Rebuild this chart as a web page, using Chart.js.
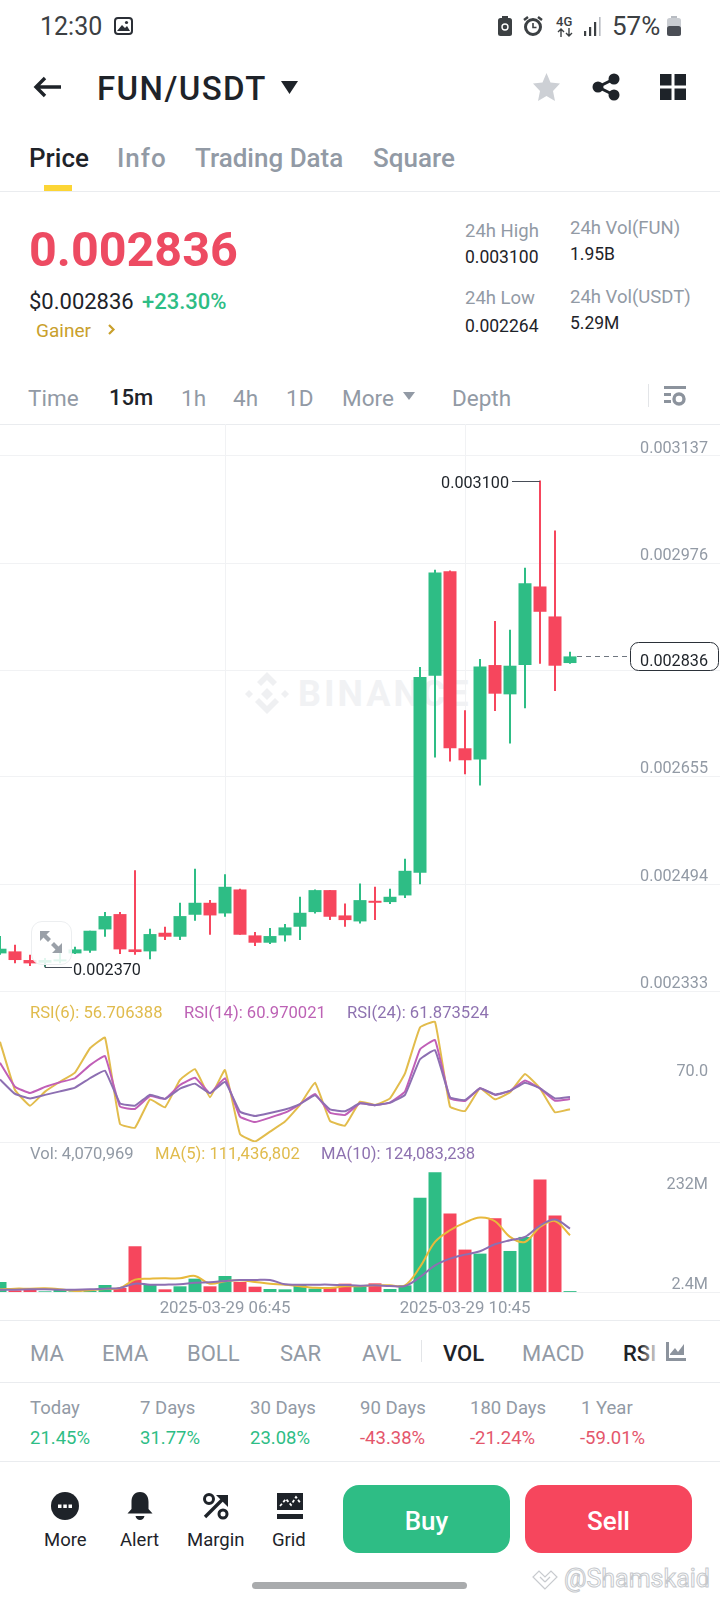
<!DOCTYPE html>
<html>
<head>
<meta charset="utf-8">
<title>FUN/USDT</title>
<script src="https://cdn.jsdelivr.net/npm/chart.js@4"></script>
<style>
  html, body { margin: 0; padding: 0; background: #fff; }
  #page { position: relative; width: 720px; height: 1600px; overflow: hidden; font-family: Roboto, sans-serif; color: #1e2329; }
  .t { position: absolute; white-space: nowrap; transform: translateY(-50%); line-height: 1; }
  .g { color: #929aa5; }
  .up { color: #2ebd85; }
  .down { color: #e4566b; }
  .line { position: absolute; left: 0; width: 720px; height: 1px; background: #eaecef; }
  svg { position: absolute; }
  canvas { position: absolute; left: 0; }
  .btn { position: absolute; top: 1485px; width: 167px; height: 68px; border-radius: 16px; color: #fff; font-size: 26px; font-weight: 500; line-height: 72px; text-align: center; }
</style>
</head>
<body>
<div id="page">
  <!-- status bar -->
  <span class="t" style="left:40px;top:26px;font-size:25px;color:#3c4043">12:30</span>
  <svg style="left:114px;top:17px" width="19" height="18" viewBox="0 0 19 18"><rect x="1" y="1" width="17" height="16" rx="3" fill="none" stroke="#2b2f36" stroke-width="2"/><path d="M3 14l5-6 3 3 2-2 3 5z" fill="#2b2f36"/><circle cx="12.5" cy="5.5" r="1.6" fill="#2b2f36"/></svg>
  <svg style="left:498px;top:16px" width="14" height="20" viewBox="0 0 14 20"><rect x="0" y="2" width="14" height="18" rx="2.5" fill="#3c4043"/><rect x="4" y="0" width="6" height="3" fill="#3c4043"/><circle cx="7" cy="11" r="3" fill="none" stroke="#fff" stroke-width="1.4"/></svg>
  <svg style="left:523px;top:16px" width="20" height="20" viewBox="0 0 20 20"><circle cx="10" cy="11" r="7.5" fill="none" stroke="#3c4043" stroke-width="3"/><path d="M10 7v4.5h3.5" fill="none" stroke="#3c4043" stroke-width="1.6"/><path d="M1 4l4-3M19 4l-4-3" stroke="#3c4043" stroke-width="2.4"/></svg>
  <span class="t" style="left:556px;top:21px;font-size:13px;font-weight:500;color:#3c4043">4G</span>
  <svg style="left:557px;top:28px" width="16" height="9" viewBox="0 0 16 9"><path d="M4 9V1M1 4l3-3 3 3M12 0v8M9 5l3 3 3-3" fill="none" stroke="#3c4043" stroke-width="1.4"/></svg>
  <svg style="left:584px;top:16px" width="17" height="20" viewBox="0 0 17 20"><rect x="0" y="15" width="2.2" height="5" fill="#3c4043"/><rect x="5" y="11" width="2.2" height="9" fill="#3c4043"/><rect x="10" y="6" width="2.2" height="14" fill="#3c4043"/><rect x="15" y="1" width="1.6" height="19" fill="#b8bcc2"/></svg>
  <span class="t" style="left:612px;top:26px;font-size:26px;color:#3c4043">57%</span>
  <svg style="left:667px;top:16px" width="14" height="20" viewBox="0 0 14 20"><rect x="4" y="0" width="6" height="2" fill="#b8bcc2"/><rect x="0" y="2" width="14" height="18" rx="2.5" fill="#c9ccd1"/><rect x="0" y="10" width="14" height="10" rx="2.5" fill="#4a4e55"/></svg>

  <!-- title row -->
  <svg style="left:33px;top:76px" width="28" height="22" viewBox="0 0 28 22"><path d="M12 2L3 11l9 9M3 11h25" fill="none" stroke="#1e2329" stroke-width="3.4"/></svg>
  <span class="t" style="left:97px;top:88px;font-size:33px;font-weight:500;letter-spacing:1.4px">FUN/USDT</span>
  <svg style="left:281px;top:81px" width="17" height="13" viewBox="0 0 17 13"><path d="M0 0h17L8.500 13z" fill="#1e2329"/></svg>
  <svg style="left:533px;top:73px" width="27" height="28" viewBox="0 0 27 28"><path d="M13.500 0l4 9.500 9.500 1-7 7.500 2 10-8.500-5-8.500 5 2-10-7-7.500 9.500-1z" fill="#cdd0d5"/></svg>
  <svg style="left:592px;top:73px" width="28" height="28" viewBox="0 0 28 28"><path d="M22 6L6 14l16 8" fill="none" stroke="#1e2329" stroke-width="3"/><circle cx="22" cy="6" r="5.500" fill="#1e2329"/><circle cx="6" cy="14" r="5.500" fill="#1e2329"/><circle cx="22" cy="22" r="5.500" fill="#1e2329"/></svg>
  <svg style="left:660px;top:74px" width="26" height="26" viewBox="0 0 26 26"><rect width="11.500" height="11.500" fill="#1e2329"/><rect x="14.500" width="11.500" height="11.500" fill="#1e2329"/><rect y="14.500" width="11.500" height="11.500" fill="#1e2329"/><rect x="14.500" y="14.500" width="11.500" height="11.500" fill="#1e2329"/></svg>

  <!-- tabs -->
  <span class="t" style="left:29px;top:158px;font-size:26px;font-weight:500">Price</span>
  <span class="t g" style="left:117px;top:158px;font-size:26px;font-weight:500;letter-spacing:1px">Info</span>
  <span class="t g" style="left:195px;top:158px;font-size:26px;font-weight:500">Trading Data</span>
  <span class="t g" style="left:373px;top:158px;font-size:26px;font-weight:500">Square</span>
  <div style="position:absolute;left:44px;top:185px;width:28px;height:6px;background:#fcd535"></div>
  <div class="line" style="top:191px"></div>

  <!-- ticker -->
  <span class="t" style="left:29px;top:250px;font-size:48.500px;font-weight:700;color:#ed4b62">0.002836</span>
  <span class="t" style="left:29px;top:302px;font-size:22px">$0.002836</span>
  <span class="t up" style="left:142px;top:302px;font-size:22px;font-weight:500">+23.30%</span>
  <span class="t" style="left:36px;top:330px;font-size:19px;color:#c9a02c">Gainer</span>
  <svg style="left:107px;top:323px" width="9" height="13" viewBox="0 0 9 13"><path d="M2 2l4.500 4.500L2 11" fill="none" stroke="#c9a02c" stroke-width="2.200"/></svg>
  <span class="t g" style="left:465px;top:231px;font-size:18.500px">24h High</span>
  <span class="t" style="left:465px;top:258px;font-size:17.500px">0.003100</span>
  <span class="t g" style="left:465px;top:298px;font-size:18.500px">24h Low</span>
  <span class="t" style="left:465px;top:327px;font-size:17.500px">0.002264</span>
  <span class="t g" style="left:570px;top:228px;font-size:18.500px">24h Vol(FUN)</span>
  <span class="t" style="left:570px;top:255px;font-size:17.500px">1.95B</span>
  <span class="t g" style="left:570px;top:297px;font-size:18.500px">24h Vol(USDT)</span>
  <span class="t" style="left:570px;top:324px;font-size:17.500px">5.29M</span>

  <!-- interval row -->
  <span class="t g" style="left:28px;top:398px;font-size:22.500px">Time</span>
  <span class="t" style="left:109px;top:398px;font-size:22px;font-weight:500">15m</span>
  <span class="t g" style="left:181px;top:398px;font-size:22.500px">1h</span>
  <span class="t g" style="left:233px;top:398px;font-size:22.500px">4h</span>
  <span class="t g" style="left:286px;top:398px;font-size:22.500px">1D</span>
  <span class="t g" style="left:342px;top:398px;font-size:22.500px">More</span>
  <svg style="left:403px;top:392px" width="12" height="8" viewBox="0 0 12 8"><path d="M0 0h12L6 8z" fill="#929aa5"/></svg>
  <span class="t g" style="left:452px;top:398px;font-size:22.500px">Depth</span>
  <div style="position:absolute;left:648px;top:384px;width:1px;height:23px;background:#e3e5e8"></div>
  <svg style="left:664px;top:386px" width="22" height="21" viewBox="0 0 22 21"><rect width="22" height="3" fill="#8c939d"/><rect y="7" width="7" height="3" fill="#8c939d"/><rect y="14" width="7" height="3" fill="#8c939d"/><circle cx="15" cy="13" r="5" fill="none" stroke="#8c939d" stroke-width="3.400"/></svg>

  <div class="line" style="top:424px"></div>

  <!-- watermark behind the canvases -->
  <svg style="left:245px;top:671px" width="44" height="44" viewBox="0 0 44 44"><path d="M22 0l10 10-4 4-6-6-6 6-4-4zM4 18l4 4-4 4-4-4zM40 18l4 4-4 4-4-4zM22 16l6 6-6 6-6-6zM10 30l4-4 8 8 8-8 4 4-12 12z" fill="#eff0f2" transform="translate(0,1)"/></svg>
  <span class="t" style="left:298px;top:694px;font-size:36px;font-weight:700;letter-spacing:3px;color:#f1f2f4">BINANCE</span>

  <canvas id="price-chart" width="720" height="568" style="top:424px"></canvas>
  <canvas id="rsi-chart" width="720" height="150" style="top:992px"></canvas>
  <canvas id="vol-chart" width="720" height="178" style="top:1142px"></canvas>

  <!-- panel legends -->
  <span class="t" style="left:30px;top:1013px;font-size:16.600px;color:#e0bb4c">RSI(6): 56.706388</span>
  <span class="t" style="left:184px;top:1013px;font-size:16.600px;color:#bd62b5">RSI(14): 60.970021</span>
  <span class="t" style="left:347px;top:1013px;font-size:16.600px;color:#8e72b0">RSI(24): 61.873524</span>
  <span class="t g" style="left:30px;top:1154px;font-size:16.600px">Vol: 4,070,969</span>
  <span class="t" style="left:155px;top:1154px;font-size:16.600px;color:#e0bb4c">MA(5): 111,436,802</span>
  <span class="t" style="left:321px;top:1154px;font-size:16.600px;color:#8e72b0">MA(10): 124,083,238</span>

  <div class="line" style="top:1142px;background:#f0f1f3"></div>
  <div class="line" style="top:1292px;background:#f0f1f3"></div>
  <div class="line" style="top:1320px"></div>

  <!-- fullscreen button over the chart -->
  <div style="position:absolute;left:31px;top:921px;width:39px;height:42px;border:1.500px solid #eceef0;border-radius:11px;background:rgba(255,255,255,.86)"></div>
  <svg style="left:38px;top:929px" width="26" height="26" viewBox="0 0 26 26"><path d="M2 2h10L8.500 5.500 13 10l-3 3-4.500-4.500L2 12zM24 24H14l3.500-3.500L13 16l3-3 4.500 4.500L24 14z" fill="#9aa0a8"/></svg>

  <!-- indicator row -->
  <span class="t g" style="left:30px;top:1354px;font-size:22px">MA</span>
  <span class="t g" style="left:102px;top:1354px;font-size:22px">EMA</span>
  <span class="t g" style="left:187px;top:1354px;font-size:22px">BOLL</span>
  <span class="t g" style="left:280px;top:1354px;font-size:22px">SAR</span>
  <span class="t g" style="left:362px;top:1354px;font-size:22px">AVL</span>
  <div style="position:absolute;left:421px;top:1340px;width:1px;height:22px;background:#e3e5e8"></div>
  <span class="t" style="left:443px;top:1354px;font-size:22px;font-weight:500">VOL</span>
  <span class="t g" style="left:522px;top:1354px;font-size:22px">MACD</span>
  <span class="t" style="left:623px;top:1354px;font-size:22px;font-weight:500">RSI</span>
  <div style="position:absolute;left:640px;top:1340px;width:20px;height:28px;background:linear-gradient(to right,rgba(255,255,255,0),#fff)"></div>
  <svg style="left:666px;top:1342px" width="20" height="19" viewBox="0 0 20 19"><path d="M1.500 0v17.500H20" fill="none" stroke="#8c939d" stroke-width="3"/><path d="M4 12l5-6 3 4 6-8v11H4z" fill="#8c939d"/></svg>
  <div class="line" style="top:1382px"></div>

  <!-- performance row -->
  <span class="t g" style="left:30px;top:1408px;font-size:18.500px">Today</span>
  <span class="t g" style="left:140px;top:1408px;font-size:18.500px">7 Days</span>
  <span class="t g" style="left:250px;top:1408px;font-size:18.500px">30 Days</span>
  <span class="t g" style="left:360px;top:1408px;font-size:18.500px">90 Days</span>
  <span class="t g" style="left:470px;top:1408px;font-size:18.500px">180 Days</span>
  <span class="t g" style="left:581px;top:1408px;font-size:18.500px">1 Year</span>
  <span class="t up" style="left:30px;top:1438px;font-size:18.500px">21.45%</span>
  <span class="t up" style="left:140px;top:1438px;font-size:18.500px">31.77%</span>
  <span class="t up" style="left:250px;top:1438px;font-size:18.500px">23.08%</span>
  <span class="t down" style="left:360px;top:1438px;font-size:18.500px">-43.38%</span>
  <span class="t down" style="left:470px;top:1438px;font-size:18.500px">-21.24%</span>
  <span class="t down" style="left:580px;top:1438px;font-size:18.500px">-59.01%</span>
  <div class="line" style="top:1461px"></div>

  <!-- action row -->
  <svg style="left:51px;top:1492px" width="28" height="28" viewBox="0 0 28 28"><circle cx="14" cy="14" r="14" fill="#1e2329"/><rect x="7" y="12.500" width="3.500" height="3.500" fill="#fff"/><rect x="12.300" y="12.500" width="3.500" height="3.500" fill="#fff"/><rect x="17.500" y="12.500" width="3.500" height="3.500" fill="#fff"/></svg>
  <svg style="left:127px;top:1492px" width="26" height="28" viewBox="0 0 26 28"><path d="M13 0c6 0 8.500 4.500 8.500 10v7l4 4.500H.5l4-4.500v-7C4.500 4.500 7 0 13 0z" fill="#1e2329"/><path d="M8.500 24h9c-.5 2.500-2.300 4-4.500 4s-4-1.500-4.500-4z" fill="#1e2329"/></svg>
  <svg style="left:202px;top:1492px" width="28" height="28" viewBox="0 0 28 28"><path d="M3 25L23 5" stroke="#1e2329" stroke-width="3.400"/><path d="M14 3h12v12z" fill="#1e2329"/><circle cx="7" cy="7" r="4.500" fill="none" stroke="#1e2329" stroke-width="3"/><circle cx="21" cy="22" r="4" fill="none" stroke="#1e2329" stroke-width="3"/></svg>
  <svg style="left:277px;top:1493px" width="26" height="27" viewBox="0 0 26 27"><path d="M0 0h26v17H0z" fill="#1e2329"/><path d="M3 13l6-7 5 6 5-8 5 7" fill="none" stroke="#fff" stroke-width="1.800" stroke-dasharray="3 2"/><rect y="21" width="26" height="5" fill="#1e2329"/></svg>
  <span class="t" style="left:44px;top:1540px;font-size:18.500px">More</span>
  <span class="t" style="left:120px;top:1540px;font-size:18.500px">Alert</span>
  <span class="t" style="left:187px;top:1540px;font-size:18.500px">Margin</span>
  <span class="t" style="left:272px;top:1540px;font-size:18.500px">Grid</span>
  <div class="btn" style="left:343px;background:#2ebd85">Buy</div>
  <div class="btn" style="left:525px;background:#f6465d">Sell</div>

  <!-- footer -->
  <svg style="left:531px;top:1568px" width="28" height="22" viewBox="0 0 28 22"><path d="M14 21L2 9l6-6 6 6 6-6 6 6z" fill="none" stroke="#c8cbcf" stroke-width="1.200"/><path d="M14 14l-5-5M14 14l5-5" stroke="#c8cbcf" stroke-width="1.200"/></svg>
  <span class="t" style="left:564px;top:1578px;font-size:25px;color:#fff;-webkit-text-stroke:1px #c6c9cd">@Shamskaid</span>
  <div style="position:absolute;left:252px;top:1582px;width:215px;height:7px;border-radius:4px;background:#a9abad"></div>
</div>

<script>
const green = "#2ebd85";
const red = "#f6465d";
const gold = "#e2bc4c";
const magenta = "#c05fb7";
const purple = "#8d6fb2";
const gridColor = "#f1f2f4";
const axisText = "#929aa5";

// candles, oldest first, one every 15 minutes
const opens = [0.002390, 0.002393, 0.002380, 0.002376, 0.002378, 0.002390, 0.002394, 0.002426, 0.002449, 0.002396,
  0.002393, 0.002421, 0.002415, 0.002448, 0.002466, 0.002450, 0.002486, 0.002417, 0.002406, 0.002417,
  0.002430, 0.002452, 0.002485, 0.002447, 0.002438, 0.002469, 0.002467, 0.002477, 0.002511, 0.002807,
  0.002964, 0.002698, 0.002681, 0.002823, 0.002779, 0.002823, 0.002941, 0.002896, 0.002826];
const highs = [0.002416, 0.002403, 0.002388, 0.002383, 0.002391, 0.002400, 0.002424, 0.002452, 0.002452, 0.002515,
  0.002427, 0.002430, 0.002466, 0.002517, 0.002470, 0.002509, 0.002487, 0.002422, 0.002428, 0.002434,
  0.002475, 0.002486, 0.002485, 0.002465, 0.002495, 0.002490, 0.002487, 0.002532, 0.002820, 0.002966,
  0.002965, 0.002755, 0.002832, 0.002889, 0.002876, 0.002969, 0.003100, 0.003025, 0.002843];
const lows = [0.002388, 0.002375, 0.002371, 0.002370, 0.002375, 0.002389, 0.002391, 0.002415, 0.002389, 0.002388,
  0.002381, 0.002410, 0.002410, 0.002439, 0.002418, 0.002445, 0.002418, 0.002401, 0.002404, 0.002408,
  0.002410, 0.002450, 0.002440, 0.002430, 0.002435, 0.002440, 0.002464, 0.002473, 0.002494, 0.002684,
  0.002678, 0.002659, 0.002642, 0.002754, 0.002705, 0.002758, 0.002825, 0.002784, 0.002825];
const closes = [0.002397, 0.002380, 0.002375, 0.002380, 0.002381, 0.002396, 0.002424, 0.002446, 0.002396, 0.002392,
  0.002419, 0.002415, 0.002446, 0.002466, 0.002447, 0.002490, 0.002418, 0.002406, 0.002416, 0.002429,
  0.002451, 0.002485, 0.002445, 0.002440, 0.002470, 0.002466, 0.002475, 0.002514, 0.002805, 0.002962,
  0.002698, 0.002680, 0.002821, 0.002780, 0.002822, 0.002946, 0.002903, 0.002822, 0.002836];

const priceTicks = [0.003137, 0.002976, 0.002815, 0.002655, 0.002494, 0.002333];
const hiddenPriceTick = 0.002815;
const highMark = 0.0031;
const lowMark = 0.00237;
const lastPrice = 0.002836;

const rsi6 = [85.5, 64.9, 58.2, 64.2, 68.4, 72.3, 82.7, 87.2, 50.4, 48.8,
  60.9, 57.5, 69.2, 73.8, 61.8, 73.4, 46.1, 42.9, 47.1, 51.4,
  58.5, 68.0, 51.7, 49.7, 59.9, 58.5, 61.3, 72.0, 91.6, 94.0,
  57.8, 55.9, 65.6, 60.9, 63.9, 71.7, 65.6, 55.4, 56.7];
const rsi14 = [76.5, 66.3, 63.6, 66.2, 68.2, 69.9, 75.5, 79.4, 57.8, 56.8,
  62.3, 61.1, 67.0, 70.1, 63.5, 69.9, 53.5, 51.2, 53.1, 55.2,
  58.9, 63.2, 55.2, 54.2, 59.2, 58.4, 59.5, 64.2, 82.2, 86.2,
  61.3, 60.2, 65.6, 62.8, 64.5, 68.9, 65.6, 60.3, 61.0];
const rsi24 = [69.4, 63.2, 61.3, 62.8, 64.3, 65.9, 69.9, 73.1, 59.2, 58.2,
  62.9, 61.1, 65.5, 67.6, 63.5, 68.4, 55.6, 53.8, 55.1, 56.6,
  58.9, 62.6, 56.6, 55.8, 59.2, 58.4, 59.5, 62.8, 78.0, 81.9,
  61.8, 60.6, 65.6, 63.0, 64.5, 68.0, 65.6, 61.3, 61.9];
const rsiTicks = [70];

// volume in millions
const volumes = [21.6, 5.6, 6.2, 3.7, 6.9, 3.7, 4.3, 15.8, 10.1, 90.1,
  15.8, 7.5, 13.3, 28.0, 13.3, 33.1, 21.6, 12.6, 8.2, 7.5,
  15.8, 8.8, 10.1, 18.4, 13.3, 19.0, 8.2, 15.2, 182.9, 232.0,
  152.8, 83.7, 76.0, 143.8, 81.1, 108.0, 218.1, 148.9, 4.07];
const ma5 = [7.5, 8.8, 8.8, 9.4, 7.5, 4.3, 5.6, 8.2, 10.1, 26.1,
  28.0, 28.6, 28.6, 33.1, 18.4, 22.9, 24.8, 21.6, 18.4, 16.5,
  13.3, 10.7, 10.1, 13.3, 13.3, 15.2, 15.2, 15.2, 50.4, 98.4,
  120.8, 135.5, 145.1, 138.1, 108.0, 98.4, 127.2, 138.7, 111.4];
const ma10 = [6.9, 6.9, 7.5, 7.5, 6.9, 6.9, 7.5, 8.8, 10.1, 18.4,
  16.5, 16.5, 17.1, 20.3, 21.0, 23.5, 25.4, 25.4, 25.4, 17.1,
  16.5, 16.5, 16.5, 15.8, 14.6, 15.2, 13.9, 13.9, 31.2, 53.6,
  66.4, 74.1, 80.5, 93.9, 101.6, 108.0, 129.8, 141.3, 124.1];
const volTopLabel = 232;
const volBottomLabel = 2.4;

const timeTicks = [15, 31];
const timeLabels = ["2025-03-29 06:45", "2025-03-29 10:45"];

const candleColors = closes.map((close, i) => (close >= opens[i] ? green : red));

function xAxis(showLabels) {
  return {
    type: "linear",
    min: 0,
    max: 48,
    offset: false,
    afterBuildTicks: (scale) => {
      scale.ticks = timeTicks.map((value) => ({ value }));
    },
    afterFit: (scale) => {
      scale.height = showLabels ? 28 : 0;
      scale.paddingLeft = 0;
      scale.paddingRight = 0;
    },
    border: { display: false },
    grid: { color: gridColor, drawTicks: false, offset: false },
    ticks: {
      display: showLabels,
      autoSkip: false,
      maxRotation: 0,
      padding: 7,
      color: axisText,
      font: { family: "Roboto", size: 16.8 },
      callback: (value) => timeLabels[timeTicks.indexOf(value)],
    },
  };
}

function yAxis(min, max, ticks, label, offset, gridOn) {
  return {
    position: "right",
    min,
    max,
    afterBuildTicks: (scale) => {
      scale.ticks = ticks.map((value) => ({ value }));
    },
    afterFit: (scale) => {
      scale.width = 0;
      scale.paddingTop = 0;
      scale.paddingBottom = 0;
    },
    border: { display: false },
    grid: { display: gridOn, color: gridColor, drawTicks: false },
    ticks: {
      mirror: true,
      autoSkip: false,
      // a mirrored right axis adds the padding, so it has to be negative to sit inside
      padding: -12,
      labelOffset: offset,
      color: axisText,
      font: { family: "Roboto", size: 16.2 },
      callback: label,
    },
  };
}

function points(values) {
  return values.map((y, x) => ({ x, y }));
}

function lineSet(label, values, color, tension) {
  return {
    type: "line",
    label,
    data: points(values),
    borderColor: color,
    borderWidth: 2,
    pointRadius: 0,
    tension,
    order: 1,
  };
}

const baseOptions = {
  responsive: false,
  animation: false,
  events: [],
  layout: { padding: 0 },
};
const noPlugins = { legend: { display: false }, tooltip: { enabled: false } };

// extreme labels and the last-price pill
const priceMarks = {
  id: "priceMarks",
  afterDatasetsDraw(chart) {
    const { ctx, scales } = chart;
    const highY = Math.round(scales.y.getPixelForValue(highMark)) + 0.5;
    const lowY = Math.round(scales.y.getPixelForValue(lowMark)) + 0.5;
    const lastY = Math.round(scales.y.getPixelForValue(lastPrice)) + 0.5;
    const highX = scales.x.getPixelForValue(highs.indexOf(highMark));
    const lowX = scales.x.getPixelForValue(lows.indexOf(lowMark));
    const lastX = scales.x.getPixelForValue(closes.length - 1);

    ctx.save();
    ctx.font = "16.2px Roboto";
    ctx.textBaseline = "middle";
    ctx.strokeStyle = "#474d57";
    ctx.lineWidth = 1;

    ctx.beginPath();
    ctx.moveTo(highX - 28, highY);
    ctx.lineTo(highX, highY);
    ctx.moveTo(lowX, lowY - 4);
    ctx.lineTo(lowX, lowY);
    ctx.lineTo(lowX + 27, lowY);
    ctx.stroke();

    ctx.fillStyle = "#1e2329";
    ctx.textAlign = "right";
    ctx.fillText("0.003100", highX - 31, highY + 2);
    ctx.textAlign = "left";
    ctx.fillText("0.002370", lowX + 28, lowY + 3);

    ctx.setLineDash([5, 4]);
    ctx.strokeStyle = "#6f7680";
    ctx.beginPath();
    ctx.moveTo(lastX + 7, lastY);
    ctx.lineTo(630, lastY);
    ctx.stroke();
    ctx.setLineDash([]);

    ctx.fillStyle = "#fff";
    ctx.strokeStyle = "#2b3139";
    ctx.beginPath();
    ctx.roundRect(630.5, lastY - 14, 88, 28, 8);
    ctx.fill();
    ctx.stroke();
    ctx.fillStyle = "#1e2329";
    ctx.textAlign = "right";
    ctx.fillText(lastPrice.toFixed(6), 708, lastY + 5);
    ctx.restore();
  },
};

// the volume axis puts its top label under the line and its bottom label over it
const volLabels = {
  id: "volLabels",
  afterDatasetsDraw(chart) {
    const { ctx, scales } = chart;
    ctx.save();
    ctx.font = "16.2px Roboto";
    ctx.fillStyle = axisText;
    ctx.textAlign = "right";
    ctx.textBaseline = "middle";
    ctx.fillText(`${volTopLabel}M`, 708, scales.y.getPixelForValue(volTopLabel) + 13);
    ctx.fillText(`${volBottomLabel}M`, 708, scales.y.getPixelForValue(volBottomLabel) - 7);
    ctx.restore();
  },
};

function renderPrice() {
  new Chart(document.getElementById("price-chart"), {
    type: "bar",
    data: {
      datasets: [
        {
          label: "Body",
          data: opens.map((open, i) => ({ x: i, y: [open, closes[i]] })),
          backgroundColor: candleColors,
          barThickness: 13,
          grouped: false,
          inflateAmount: 0,
          order: 1,
        },
        {
          label: "Wick",
          data: lows.map((low, i) => ({ x: i, y: [low, highs[i]] })),
          backgroundColor: candleColors,
          barThickness: 2,
          grouped: false,
          inflateAmount: 0,
          order: 2,
        },
      ],
    },
    options: {
      ...baseOptions,
      plugins: noPlugins,
      scales: {
        x: xAxis(false),
        y: yAxis(0.002332, 0.003185, priceTicks,
          (value) => (value === hiddenPriceTick ? "" : value.toFixed(6)), -7.5, true),
      },
    },
    plugins: [priceMarks],
  });
}

function renderRsi() {
  new Chart(document.getElementById("rsi-chart"), {
    type: "line",
    data: {
      datasets: [
        lineSet("RSI(24)", rsi24, purple, 0.1),
        lineSet("RSI(14)", rsi14, magenta, 0.1),
        lineSet("RSI(6)", rsi6, gold, 0.1),
      ],
    },
    options: {
      ...baseOptions,
      plugins: noPlugins,
      scales: {
        x: xAxis(false),
        y: yAxis(42.7, 106.7, rsiTicks, (value) => value.toFixed(1), -6.5, false),
      },
    },
  });
}

function renderVolume() {
  new Chart(document.getElementById("vol-chart"), {
    type: "bar",
    data: {
      datasets: [
        lineSet("MA(10)", ma10, purple, 0.35),
        lineSet("MA(5)", ma5, "#e8b93c", 0.35),
        {
          label: "Vol",
          data: points(volumes),
          backgroundColor: candleColors,
          barThickness: 13,
          grouped: false,
          inflateAmount: 0,
          order: 2,
        },
      ],
    },
    options: {
      ...baseOptions,
      plugins: noPlugins,
      scales: {
        x: xAxis(true),
        y: { display: false, min: 2.4, max: 290 },
      },
    },
    plugins: [volLabels],
  });
}

renderPrice();
renderRsi();
renderVolume();
</script>
</body>
</html>
